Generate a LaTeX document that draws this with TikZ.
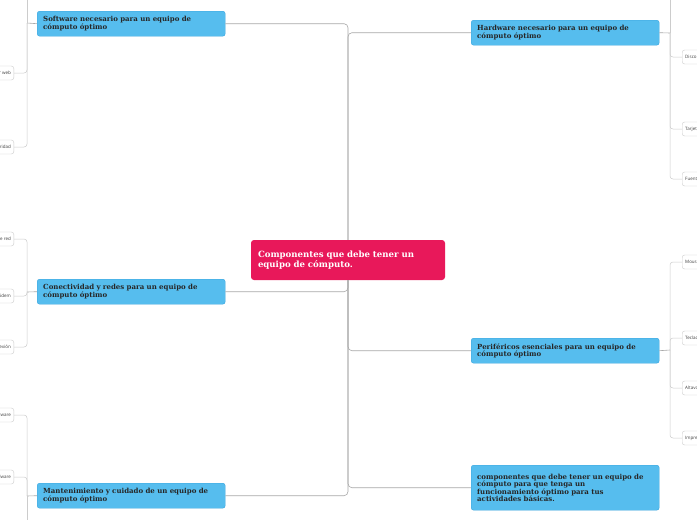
\documentclass[tikz,border=0pt]{standalone}
\usepackage{fontspec}
\setmainfont{DejaVu Serif}
\setsansfont{Open Sans}
\usetikzlibrary{positioning}
\definecolor{rootred}{HTML}{E8185A}
\definecolor{branchblue}{HTML}{56BDEE}
\definecolor{branchline}{HTML}{3AA6DF}
\definecolor{linkgray}{HTML}{A8A8A8}
\begin{document}
\begin{tikzpicture}[x=1pt,y=-1pt,
    root/.style={rectangle,rounded corners=3pt,fill=rootred,text=white,
        font=\bfseries\fontsize{8.6}{10}\selectfont,align=left,
        minimum width=194pt,minimum height=40pt,text width=180pt,inner sep=6pt},
    branch/.style={rectangle,rounded corners=2.5pt,fill=branchblue,draw=branchline,
        text=black!85,font=\bfseries\fontsize{7}{7.4}\selectfont,align=left,
        minimum width=188pt,minimum height=25pt,text width=176pt,inner xsep=6pt,
        inner ysep=4pt},
    leaf/.style={rectangle,rounded corners=2.5pt,draw=black!20,fill=white,
        text=black!75,font=\sffamily\fontsize{4.5}{5}\selectfont,
        minimum height=14pt,inner sep=3pt},
    link/.style={draw=linkgray,line width=0.6pt,rounded corners=4pt},
    twig/.style={draw=black!20,line width=0.5pt,rounded corners=3pt}
]
\useasboundingbox (0,0) rectangle (697,520);
\fill[white] (0,0) rectangle (697,520);
\clip (0,0) rectangle (697,520);

% central topic
\node[root] (root) at (348,260) {Componentes que debe tener un\\equipo de cómputo.};

% main branches
\node[branch,anchor=north west] (sw) at (37,11) {Software necesario para un equipo de\\cómputo óptimo};
\node[branch,anchor=north west] (net) at (37,279) {Conectividad y redes para un equipo de\\cómputo óptimo};
\node[branch,anchor=north west] (care) at (37,483) {Mantenimiento y cuidado de un equipo de\\cómputo óptimo};
\node[branch,anchor=north west] (hw) at (471,20) {Hardware necesario para un equipo de\\cómputo óptimo};
\node[branch,anchor=north west] (per) at (471,338) {Periféricos esenciales para un equipo de\\cómputo óptimo};
\node[branch,anchor=north west,minimum height=45pt] (sum) at (471,465) {componentes que debe tener un equipo de\\cómputo para que tenga un\\funcionamiento óptimo para tus\\actividades básicas.};

\draw[link] (sw.east) -| (root.north);
\draw[link] (hw.west) -| (root.north);
\draw[link] (net.east) -| (root.south);
\draw[link] (care.east) -| (root.south);
\draw[link] (per.west) -| (root.south);
\draw[link] (sum.west) -| (root.south);

% left subtopics
\node[leaf,anchor=east] (web) at (14,73) {Navegador web};
\node[leaf,anchor=east] (sec) at (14,147) {Antivirus y seguridad};
\node[leaf,anchor=east] (card) at (14,239) {Tarjeta de red};
\node[leaf,anchor=east] (modem) at (14,296) {Router o módem};
\node[leaf,anchor=east] (conn) at (14,347) {Conexión};
\node[leaf,anchor=east] (upd) at (14,415) {Actualizaciones de software};
\node[leaf,anchor=east] (clean) at (14,477) {Limpieza de hardware};

\coordinate (swj) at (27,23);
\coordinate (swtop) at (27,0);
\coordinate (netj) at (27,292);
\coordinate (carej) at (27,496);
\coordinate (carebot) at (27,520);
\draw[link] (sw.west) -- (swj);
\draw[twig] (swtop) -- (swj);
\foreach \n in {web,sec} \draw[twig] (swj) |- (\n.east);
\draw[link] (net.west) -- (netj);
\foreach \n in {card,modem,conn} \draw[twig] (netj) |- (\n.east);
\draw[link] (care.west) -- (carej);
\draw[twig] (carej) -- (carebot);
\foreach \n in {upd,clean} \draw[twig] (carej) |- (\n.east);

% right subtopics
\node[leaf,anchor=west] (disk) at (682,57) {Disco duro};
\node[leaf,anchor=west] (gpu) at (682,129) {Tarjeta gráfica};
\node[leaf,anchor=west] (psu) at (682,179) {Fuente de poder};
\node[leaf,anchor=west] (mouse) at (682,262) {Mouse};
\node[leaf,anchor=west] (keys) at (682,338) {Teclado};
\node[leaf,anchor=west] (spk) at (682,388) {Altavoces};
\node[leaf,anchor=west] (prn) at (682,438) {Impresora};

\coordinate (hwj) at (670,33);
\coordinate (hwtop) at (670,0);
\coordinate (perj) at (670,350);
\draw[link] (hw.east) -- (hwj);
\draw[twig] (hwtop) -- (hwj);
\foreach \n in {disk,gpu,psu} \draw[twig] (hwj) |- (\n.west);
\draw[link] (per.east) -- (perj);
\foreach \n in {mouse,keys,spk,prn} \draw[twig] (perj) |- (\n.west);
\end{tikzpicture}
\end{document}
